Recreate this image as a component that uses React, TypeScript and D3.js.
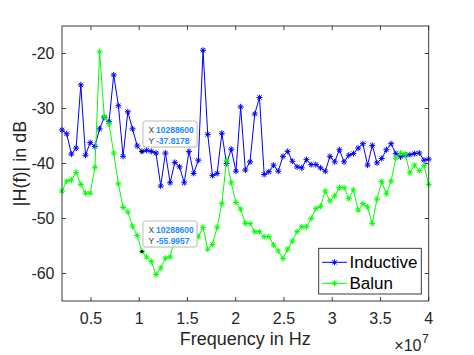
import React from "react";
import * as d3 from "d3";

// Frequency sweep in MHz (79 points, 2 MHz .. 40 MHz)
const freqMHz = [
  2.0, 2.487, 2.974, 3.462, 3.949, 4.436, 4.923, 5.41, 5.897, 6.385,
  6.872, 7.359, 7.846, 8.333, 8.821, 9.308, 9.795, 10.282, 10.769, 11.256,
  11.744, 12.231, 12.718, 13.205, 13.692, 14.179, 14.667, 15.154, 15.641, 16.128,
  16.615, 17.103, 17.59, 18.077, 18.564, 19.051, 19.538, 20.026, 20.513, 21.0,
  21.487, 21.974, 22.462, 22.949, 23.436, 23.923, 24.41, 24.897, 25.385, 25.872,
  26.359, 26.846, 27.333, 27.821, 28.308, 28.795, 29.282, 29.769, 30.256, 30.744,
  31.231, 31.718, 32.205, 32.692, 33.179, 33.667, 34.154, 34.641, 35.128, 35.615,
  36.103, 36.59, 37.077, 37.564, 38.051, 38.538, 39.026, 39.513, 40.0,
];

const inductiveDb = [
  -33.9, -34.6, -38.3, -37.2, -25.7, -38.5, -36.2, -36.9, -33.7, -31.6,
  -32.4, -23.9, -29.5, -38.7, -30.6, -33.7, -36.8, -37.8, -37.6, -37.8,
  -38.1, -44.1, -38.1, -43.5, -39.8, -40.6, -43.5, -37.8, -41.8, -39.4,
  -19.4, -34.7, -42.2, -41.8, -34.5, -40.0, -37.4, -41.4, -29.7, -41.2,
  -39.7, -31.0, -28.0, -42.0, -41.5, -40.3, -41.4, -38.7, -37.8, -39.6,
  -40.6, -40.8, -39.3, -40.2, -40.2, -40.8, -41.4, -38.7, -39.7, -37.5,
  -39.7, -38.5, -38.2, -37.2, -36.4, -40.3, -36.7, -39.9, -39.1, -37.5,
  -36.4, -38.2, -38.8, -38.5, -38.4, -38.2, -38.1, -39.4, -39.2,
];

const balunDb = [
  -45.0, -43.2, -43.0, -41.6, -43.8, -45.4, -45.4, -40.7, -19.7, -31.5,
  -32.8, -38.1, -43.7, -48.0, -48.8, -51.4, -53.1, -56.0, -57.0, -57.8,
  -60.2, -59.0, -57.2, -57.0, -53.5, -53.0, -53.2, -53.6, -54.0, -53.3,
  -51.6, -55.6, -54.7, -51.6, -47.3, -39.4, -43.5, -47.1, -48.3, -50.9,
  -50.9, -52.4, -52.4, -53.3, -53.3, -54.8, -55.9, -57.3, -55.6, -54.1,
  -52.4, -51.5, -51.5, -50.0, -48.2, -47.8, -45.0, -46.8, -45.9, -44.4,
  -44.4, -46.4, -44.8, -48.5, -47.3, -47.9, -50.9, -46.5, -43.3, -45.5,
  -43.2, -39.0, -38.1, -38.3, -41.7, -40.3, -41.3, -40.4, -43.8,
];

const xTickValues = [5, 10, 15, 20, 25, 30, 35, 40];
const xTickLabels = ["0.5", "1", "1.5", "2", "2.5", "3", "3.5", "4"];
const yTickValues = [-60, -50, -40, -30, -20];
const seriesNames = ["Inductive", "Balun"];
const seriesColors = ["#0000ff", "#00ff00"];
const datatipX = [10.2886, 10.2886];
const datatipY = [-37.8178, -55.9957];
const datatipXLabel = ["10288600", "10288600"];
const datatipYLabel = ["-37.8178", "-55.9957"];

const W = 474;
const H = 355;
const L = 62, R = 428.7, T = 26, B = 301;
const FONT = "'Liberation Sans', Arial, Helvetica, sans-serif";
const AX = "#262626";

const starPath = (r: number) => {
  const d = r * 0.72;
  return `M${-r},0H${r}M0,${-r}V${r}M${-d},${-d}L${d},${d}M${-d},${d}L${d},${-d}`;
};

export default function App() {
  const x = d3.scaleLinear().domain([2, 40]).range([L, R]);
  const y = d3.scaleLinear().domain([-65, -15]).range([B, T]);
  const series = [inductiveDb, balunDb];
  const line = d3
    .line<number>()
    .x((_, i) => x(freqMHz[i]))
    .y((v) => y(v));
  const tick = 4;

  return (
    <svg
      width={W}
      height={H}
      style={{ position: "absolute", left: 0, top: 0, background: "#fff" }}
      fontFamily={FONT}
    >
      <rect x={0} y={0} width={W} height={H} fill="#fff" />
      {/* series */}
      {series.map((s, si) => (
        <g key={si}>
          <path d={line(s) || ""} fill="none" stroke={seriesColors[si]} strokeWidth={1} />
          {s.map((v, i) => (
            <path
              key={i}
              transform={`translate(${x(freqMHz[i])},${y(v)})`}
              d={starPath(3)}
              stroke={seriesColors[si]}
              strokeWidth={1}
              fill="none"
            />
          ))}
        </g>
      ))}
      {/* axes box */}
      <rect x={L} y={T} width={R - L} height={B - T} fill="none" stroke={AX} strokeWidth={0.9} />
      {xTickValues.map((v, i) => (
        <g key={"xt" + i}>
          <line x1={x(v)} x2={x(v)} y1={B} y2={B - tick} stroke={AX} strokeWidth={0.9} />
          <line x1={x(v)} x2={x(v)} y1={T} y2={T + tick} stroke={AX} strokeWidth={0.9} />
          <text x={x(v)} y={323.5} textAnchor="middle" fontSize={16} fill={AX}>
            {xTickLabels[i]}
          </text>
        </g>
      ))}
      {yTickValues.map((v, i) => (
        <g key={"yt" + i}>
          <line x1={L} x2={L + tick} y1={y(v)} y2={y(v)} stroke={AX} strokeWidth={0.9} />
          <line x1={R} x2={R - tick} y1={y(v)} y2={y(v)} stroke={AX} strokeWidth={0.9} />
          <text x={54.5} y={y(v)} dy="0.35em" textAnchor="end" fontSize={16} fill={AX}>
            {v}
          </text>
        </g>
      ))}
      {/* exponent */}
      <text x={421.5} y={351} textAnchor="end" fontSize={16} fill={AX}>
        ×10
      </text>
      <text x={422} y={343} fontSize={12} fill={AX}>
        7
      </text>
      {/* axis labels */}
      <text x={(L + R) / 2} y={345} textAnchor="middle" fontSize={18} fill={AX}>
        Frequency in Hz
      </text>
      <text
        transform={`translate(25.5,${(T + B) / 2}) rotate(-90)`}
        textAnchor="middle"
        fontSize={18}
        fill={AX}
      >
        |H(f)| in dB
      </text>
      {/* datatips */}
      {datatipX.map((dx, i) => {
        const px = x(dx);
        const py = y(datatipY[i]);
        const bx = px + 1;
        const by = py - 30.5;
        return (
          <g key={"dt" + i}>
            <circle cx={px} cy={py} r={1.6} fill="#000" />
            <rect x={bx + 0.8} y={by + 0.8} width={54} height={26} rx={2.5} fill="#000" opacity={0.08} />
            <rect
              x={bx}
              y={by}
              width={54}
              height={26}
              rx={2.5}
              fill="#fff"
              fillOpacity={0.95}
              stroke="#bdbdbd"
              strokeWidth={1}
            />
            <text x={bx + 5.5} y={by + 9} dy="0.35em" fontSize={8.5} fill="#404040">
              X
            </text>
            <text x={bx + 13} y={by + 9} dy="0.35em" fontSize={8.5} fontWeight="bold" fill="#1a8cff">
              {datatipXLabel[i]}
            </text>
            <text x={bx + 5.5} y={by + 20.5} dy="0.35em" fontSize={8.5} fill="#404040">
              Y
            </text>
            <text x={bx + 13} y={by + 20.5} dy="0.35em" fontSize={8.5} fontWeight="bold" fill="#1a8cff">
              {datatipYLabel[i]}
            </text>
          </g>
        );
      })}
      {/* legend */}
      <g>
        <rect x={318.7} y={248.3} width={102.6} height={45.7} fill="#fff" stroke={AX} strokeWidth={0.9} />
        {seriesNames.map((name, i) => {
          const ly = 262.3 + i * 21;
          return (
            <g key={name}>
              <line x1={322} x2={347} y1={ly} y2={ly} stroke={seriesColors[i]} strokeWidth={1} />
              <path transform={`translate(334.5,${ly})`} d={starPath(3)} stroke={seriesColors[i]} strokeWidth={1} />
              <text x={349.5} y={ly} dy="0.36em" fontSize={17} fill="#000">
                {name}
              </text>
            </g>
          );
        })}
      </g>
    </svg>
  );
}
